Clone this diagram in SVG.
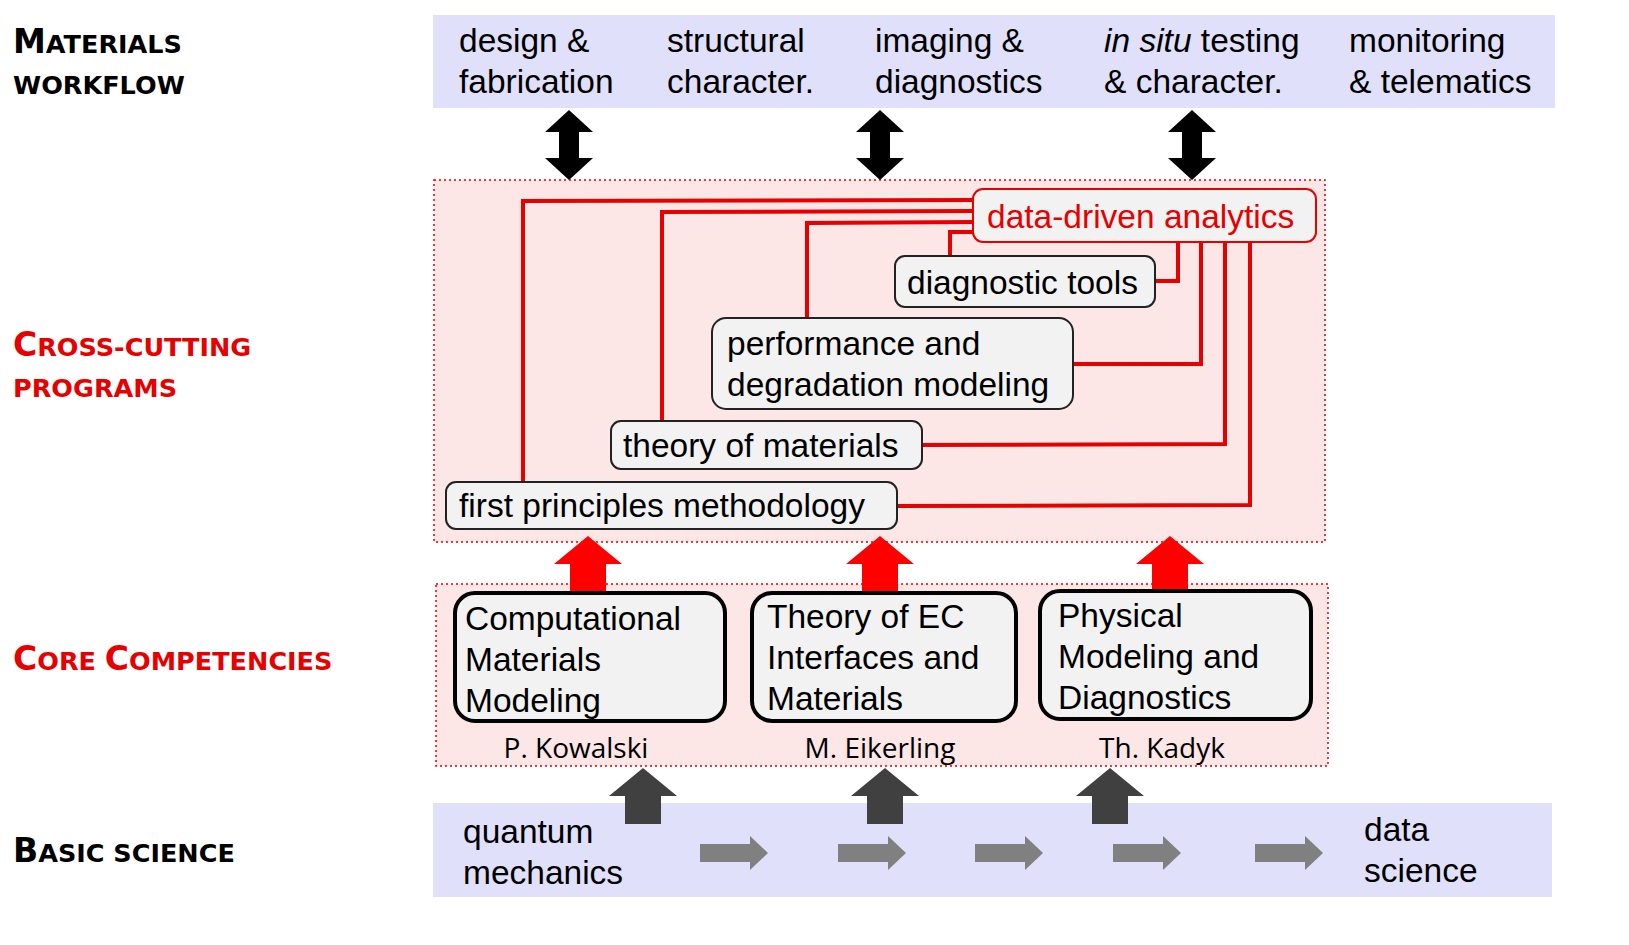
<svg xmlns="http://www.w3.org/2000/svg" width="1629" height="945" viewBox="0 0 1629 945">
<style>
.t{font-family:"Liberation Sans",Arial,sans-serif;font-size:33.5px;fill:#000}
.red{fill:#e60000}
.h{font-family:"DejaVu Sans",Verdana,sans-serif;font-weight:bold;font-size:25.5px}
.hb{font-size:33px}
.n{font-family:"Open Sans","Liberation Sans",sans-serif;font-size:28px;text-anchor:middle}
.bx{fill:#f2f2f2;stroke:#222;stroke-width:2}
.cb{fill:#f2f2f2;stroke:#000;stroke-width:4}
.rl{fill:none;stroke:#e60000;stroke-width:4}
.band{fill:#e0e0fa}
.pink{fill:#fde6e6;stroke:#d00;stroke-width:1.5;stroke-dasharray:2 3}
</style>
<defs>
<path id="dbl" d="M0,0 L-24,22 L-10,22 L-10,48 L-24,48 L0,70 L24,48 L10,48 L10,22 L24,22 Z"/>
<path id="up" d="M0,0 L-34,28 L-18,28 L-18,56 L18,56 L18,28 L34,28 Z"/>
<path id="rt" d="M0,-9 L50,-9 L50,-17 L68,0 L50,17 L50,9 L0,9 Z"/>
</defs>
<g id="labels">
<text class="h" x="13" y="53"><tspan class="hb">M</tspan>ATERIALS</text>
<text class="h" x="13" y="94">WORKFLOW</text>
<text class="h" x="13" y="356" fill="#e60000"><tspan class="hb">C</tspan>ROSS-CUTTING</text>
<text class="h" x="13" y="397" fill="#e60000">PROGRAMS</text>
<text class="h" x="13" y="670" fill="#e60000"><tspan class="hb">C</tspan>ORE <tspan class="hb">C</tspan>OMPETENCIES</text>
<text class="h" x="13" y="862"><tspan class="hb">B</tspan>ASIC SCIENCE</text>
</g>
<g id="workflow">
<rect class="band" x="433" y="15" width="1122" height="93"/>
<text class="t" x="459" y="52">design &amp;</text><text class="t" x="459" y="93">fabrication</text>
<text class="t" x="667" y="52">structural</text><text class="t" x="667" y="93">character.</text>
<text class="t" x="875" y="52">imaging &amp;</text><text class="t" x="875" y="93">diagnostics</text>
<text class="t" x="1104" y="52"><tspan font-style="italic">in situ</tspan> testing</text><text class="t" x="1104" y="93">&amp; character.</text>
<text class="t" x="1349" y="52">monitoring</text><text class="t" x="1349" y="93">&amp; telematics</text>
</g>
<g id="basic">
<rect class="band" x="433" y="803" width="1119" height="94"/>
<text class="t" x="463" y="843">quantum</text><text class="t" x="463" y="884">mechanics</text>
<text class="t" x="1364" y="841">data</text><text class="t" x="1364" y="882">science</text>
</g>
<g id="cross">
<rect class="pink" x="434" y="180" width="891" height="362"/>
</g>
<g id="core">
<rect class="pink" x="436" y="584" width="892" height="182"/>
</g>
<g id="connectors">
<use href="#dbl" x="569" y="110"/><use href="#dbl" x="880" y="110"/><use href="#dbl" x="1192" y="110"/>
<path class="rl" d="M975,200 L523,201 L523,482"/>
<path class="rl" d="M975,211 L662,212 L662,421"/>
<path class="rl" d="M975,222 L807,223 L807,318"/>
<path class="rl" d="M975,232 L950,232 L950,256"/>
<path class="rl" d="M1178,242 L1178,281 L1155,281"/>
<path class="rl" d="M1201,242 L1201,364 L1073,364"/>
<path class="rl" d="M1225,242 L1225,444 L922,445"/>
<path class="rl" d="M1250,242 L1250,505 L897,506"/>
<use href="#up" x="588" y="536" fill="#ff0000"/><use href="#up" x="880" y="536" fill="#ff0000"/><use href="#up" x="1170" y="536" fill="#ff0000"/>
<use href="#up" x="643" y="768" fill="#404040"/><use href="#up" x="885" y="768" fill="#404040"/><use href="#up" x="1110" y="768" fill="#404040"/>
<g fill="#808080">
<use href="#rt" x="700" y="853"/><use href="#rt" x="838" y="853"/><use href="#rt" x="975" y="853"/><use href="#rt" x="1113" y="853"/><use href="#rt" x="1255" y="853"/>
</g>
</g>
<g id="dda"><rect x="973" y="189" width="343" height="53" rx="10" fill="#f2f2f2" stroke="#e60000" stroke-width="2"/>
<text class="t red" x="987" y="228">data-driven analytics</text></g>
<g id="diag"><rect class="bx" x="895" y="256" width="260" height="51" rx="10"/><text class="t" x="907" y="294">diagnostic tools</text></g>
<g id="perf"><rect class="bx" x="712" y="318" width="361" height="91" rx="14"/><text class="t" x="727" y="355">performance and</text><text class="t" x="727" y="396">degradation modeling</text></g>
<g id="theory"><rect class="bx" x="611" y="421" width="311" height="48" rx="10"/><text class="t" x="623" y="457">theory of materials</text></g>
<g id="first"><rect class="bx" x="446" y="482" width="451" height="47" rx="10"/><text class="t" x="459" y="517">first principles methodology</text></g>
<g id="c1"><rect class="cb" x="455" y="593" width="270" height="128" rx="20"/>
<text class="t" x="465" y="630">Computational</text><text class="t" x="465" y="671">Materials</text><text class="t" x="465" y="712">Modeling</text>
<text class="n" x="576" y="758">P. Kowalski</text></g>
<g id="c2"><rect class="cb" x="752" y="593" width="264" height="128" rx="20"/>
<text class="t" x="767" y="628">Theory of EC</text><text class="t" x="767" y="669">Interfaces and</text><text class="t" x="767" y="710">Materials</text>
<text class="n" x="880" y="758">M. Eikerling</text></g>
<g id="c3"><rect class="cb" x="1040" y="591" width="271" height="128" rx="20"/>
<text class="t" x="1058" y="627">Physical</text><text class="t" x="1058" y="668">Modeling and</text><text class="t" x="1058" y="709">Diagnostics</text>
<text class="n" x="1162" y="758">Th. Kadyk</text></g>
</svg>
